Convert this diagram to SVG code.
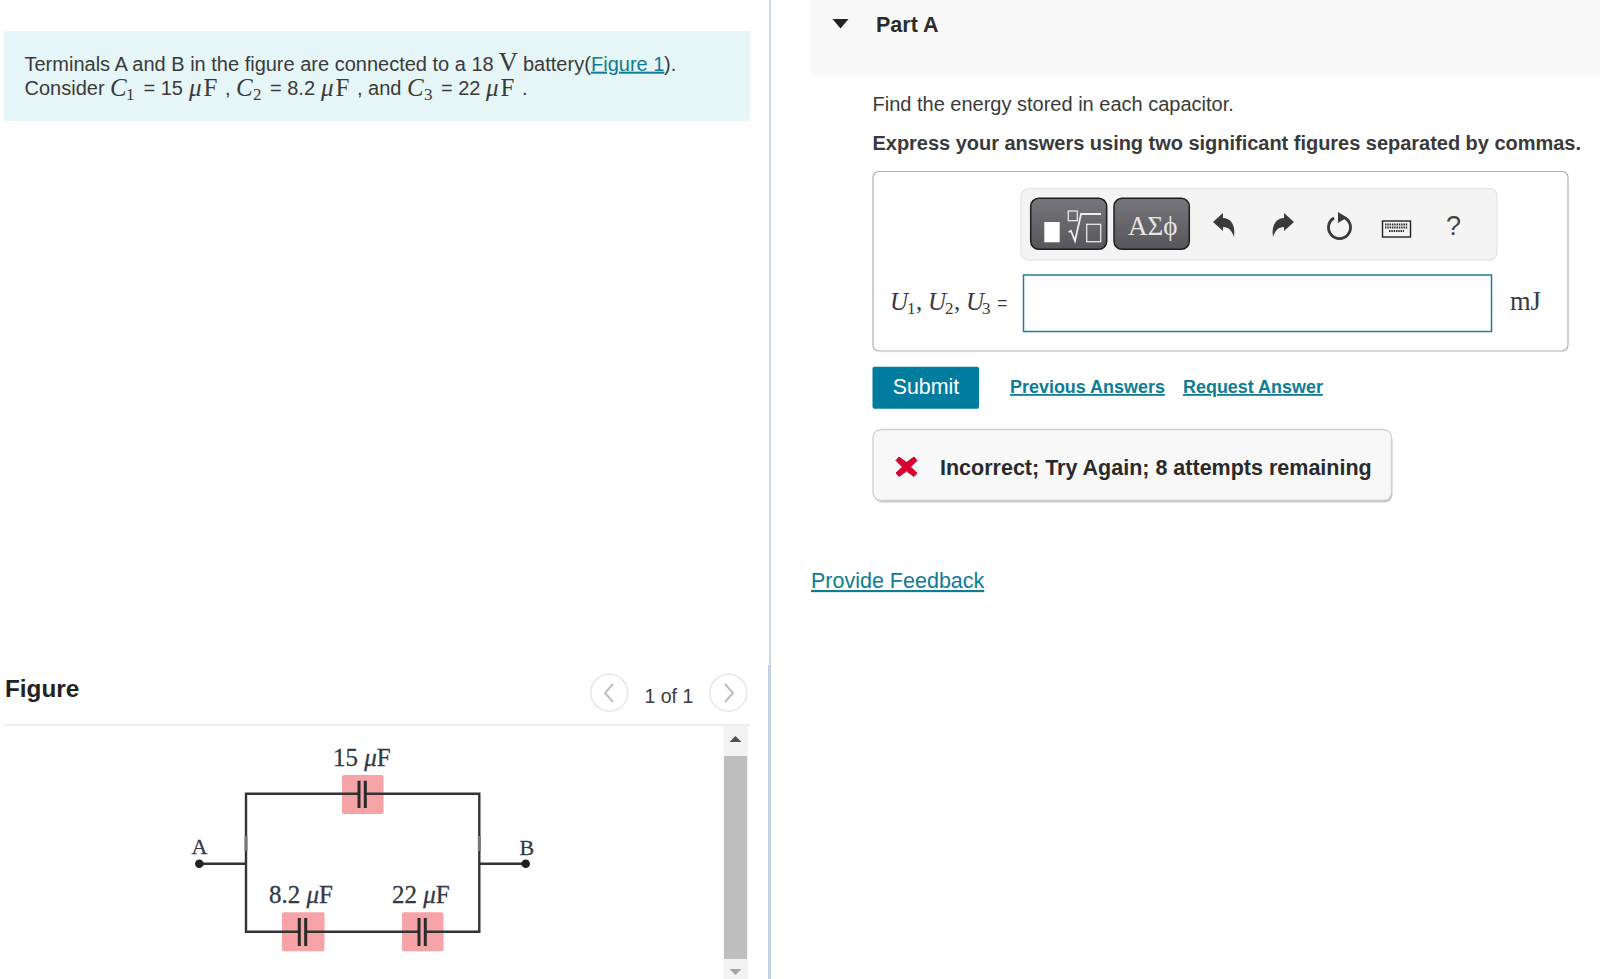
<svg xmlns="http://www.w3.org/2000/svg" width="1600" height="979" viewBox="0 0 1600 979">
<style>
text{font-family:"Liberation Sans",Arial,sans-serif;fill:#3a3a3a}
.s{font-size:20px}
.m{font-family:"Liberation Serif","Times New Roman",serif;font-size:25px}
.i{font-style:italic}
.sub{font-size:17px}
.l{fill:#0e7c94;text-decoration:underline}
.c{font-family:"Liberation Serif","Times New Roman",serif;font-size:25px;fill:#333a45;stroke:#333a45;stroke-width:.3px}
.w{fill:none;stroke:#333;stroke-width:2.4}
.p{fill:#f6a4a8}
.pl{stroke:#2a2a2a;stroke-width:3}
.tb{fill:url(#g);stroke:#1e1e1e;stroke-width:1.5}
.ic{fill:#3a3a3a}
</style>
<defs>
<linearGradient id="g" x1="0" y1="0" x2="0" y2="1"><stop offset="0" stop-color="#77777b"/><stop offset="1" stop-color="#56565a"/></linearGradient>
</defs>
<rect width="1600" height="979" fill="#fff"/>
<g id="problem">
<rect x="4" y="31" width="746" height="90" fill="#e6f5f6"/>
<text class="s" x="24.5" y="70.7">Terminals A and B in the figure are connected to a 18</text>
<text class="m" x="498.5" y="71" style="font-size:27px">V</text>
<text class="s" x="523" y="70.7">battery(</text>
<text class="s l" x="591" y="70.7">Figure 1</text>
<text class="s" x="664" y="70.7">).</text>
<text class="s" x="24.5" y="95.3">Consider</text>
<text class="m i" x="110" y="96">C</text><text class="m sub" x="126" y="100">1</text>
<text class="s" x="143.4" y="95.3">= 15</text>
<text class="m i" x="189" y="96">μ</text><text class="m" x="203.5" y="96">F</text>
<text class="s" x="225" y="95.3">,</text>
<text class="m i" x="236" y="96">C</text><text class="m sub" x="253" y="100">2</text>
<text class="s" x="270" y="95.3">= 8.2</text>
<text class="m i" x="321" y="96">μ</text><text class="m" x="335.5" y="96">F</text>
<text class="s" x="357" y="95.3">, and</text>
<text class="m i" x="407" y="96">C</text><text class="m sub" x="424" y="100">3</text>
<text class="s" x="441" y="95.3">= 22</text>
<text class="m i" x="486" y="96">μ</text><text class="m" x="500.5" y="96">F</text>
<text class="s" x="522" y="95.3">.</text>
</g>
<g id="figure-header">
<text x="5" y="697" font-size="24.300" font-weight="700" style="fill:#222">Figure</text>
<line x1="4" y1="725" x2="750" y2="725" stroke="#dcdcdc" stroke-width="1"/>
<circle cx="609.300" cy="692.700" r="18.500" fill="#fff" stroke="#e6e6e6" stroke-width="1.500"/>
<path d="M613 684L605 693L613 702" fill="none" stroke="#bdbdbd" stroke-width="2"/>
<text x="644.500" y="702.500" font-size="19.500">1 of 1</text>
<circle cx="728.300" cy="692.700" r="18.500" fill="#fff" stroke="#e6e6e6" stroke-width="1.500"/>
<path d="M725 684L733 693L725 702" fill="none" stroke="#bdbdbd" stroke-width="2"/>
</g>
<g id="scrollbar">
<rect x="723.500" y="726" width="24.500" height="253" fill="#f3f3f3"/>
<rect x="724" y="756" width="23" height="203" fill="#bebebe"/>
<path d="M729.500 742L741.500 742L735.500 736Z" fill="#505050"/>
<path d="M729.500 969L741.500 969L735.500 975Z" fill="#a3a3a3"/>
</g>
<g id="divider"><rect x="769" y="0" width="2" height="665" fill="#cfdbe8"/><rect x="768" y="665" width="3" height="314" fill="#c3d1e5"/></g>
<g id="cap-15"><rect class="p" x="342" y="775" width="41.500" height="39" rx="2"/></g>
<g id="cap-8-2"><rect class="p" x="282" y="912.300" width="42.500" height="39" rx="2"/></g>
<g id="cap-22"><rect class="p" x="402" y="912.300" width="41.500" height="39" rx="2"/></g>
<g id="connectors">
<path class="w" d="M359 793.700H246V931.700H299.300"/>
<path class="w" d="M365.300 793.700H479.300V931.700H425.300"/>
<path class="w" d="M305.700 931.700H419"/>
<path class="w" d="M199.300 863.700H246"/>
<path class="w" d="M479.300 863.700H525.700"/>
<path d="M246 836V851M479.300 836V851" stroke="#777" fill="none" stroke-width="3"/>
</g>
<g id="plates">
<path class="pl" d="M359 780.700V808M365.300 780.700V808M299.300 918V946M305.700 918V946M419 918V946M425.300 918V946"/>
</g>
<g id="terminal-a"><circle cx="199.300" cy="863.700" r="4.300" fill="#222"/><text class="c" x="191.500" y="854" style="font-size:22px">A</text></g>
<g id="terminal-b"><circle cx="525.700" cy="863.700" r="4.300" fill="#222"/><text class="c" x="519.500" y="855" style="font-size:22px">B</text></g>
<g id="label-15"><text class="c" x="333" y="766">15 <tspan font-style="italic">μ</tspan>F</text></g>
<g id="label-8-2"><text class="c" x="269" y="903">8.2 <tspan font-style="italic">μ</tspan>F</text></g>
<g id="label-22"><text class="c" x="392" y="903">22 <tspan font-style="italic">μ</tspan>F</text></g>
<g id="part-a">
<rect x="811" y="0" width="789" height="76" fill="#f8f8f8"/>
<path d="M832.500 19H848.500L840.500 28.500Z" fill="#222"/>
<text x="876" y="31.500" font-size="21.500" font-weight="700" style="fill:#2a2a2a">Part A</text>
<text class="s" x="872.500" y="111">Find the energy stored in each capacitor.</text>
<text class="s" x="872.500" y="150" font-weight="700" textLength="708.500">Express your answers using two significant figures separated by commas.</text>
</g>
<g id="answer-box">
<rect x="873" y="171.500" width="695" height="179.500" rx="6" fill="#fff" stroke="#b0b0b0" stroke-width="1.200"/>
<rect x="1021" y="188.500" width="476" height="71.500" rx="8" fill="#f4f4f4" stroke="#e6e6e6" stroke-width="1.500"/>
<rect class="tb" x="1030.700" y="198.300" width="76" height="51" rx="8"/>
<rect x="1044.300" y="222" width="15.400" height="20.300" fill="#fff"/>
<rect x="1068.300" y="211" width="9" height="9.700" fill="none" stroke="#e8e8e8" stroke-width="1.300"/>
<path d="M1068.500 232L1071 231L1075 241L1081 214H1101" fill="none" stroke="#eee" stroke-width="1.800"/>
<rect x="1086.700" y="224.300" width="14" height="17.400" fill="none" stroke="#e8e8e8" stroke-width="1.300"/>
<rect class="tb" x="1114" y="198.300" width="75.300" height="51" rx="8"/>
<text x="1128" y="235" font-size="27" style="font-family:'Liberation Serif',serif;fill:#e6e6e6">ΑΣϕ</text>
<path class="ic" d="M1213 222L1223 213V218C1230 218 1236 224 1234 237C1232 231 1229 227 1223 227V231Z"/>
<path class="ic" d="M1294 222L1284 213V218C1277 218 1271 224 1273 237C1275 231 1278 227 1284 227V231Z"/>
<path d="M1334 218A11 11 0 1 0 1345 218" fill="none" stroke="#3a3a3a" stroke-width="2.800"/>
<path class="ic" d="M1338 212L1347 217.500L1338 223Z"/>
<rect x="1382.500" y="221" width="28" height="16" fill="#f4f4f4" stroke="#222" stroke-width="1.400"/>
<path d="M1385 224.500H1408M1385 227.500H1408M1389 231H1404" stroke="#333" stroke-width="1.800" stroke-dasharray="1.500 .8"/>
<text x="1446" y="235" font-size="27" style="fill:#444">?</text>
<text class="m i" x="890" y="310">U</text><text class="m sub" x="907" y="314">1</text><text class="m" x="916" y="310">,</text>
<text class="m i" x="928" y="310">U</text><text class="m sub" x="945" y="314">2</text><text class="m" x="954" y="310">,</text>
<text class="m i" x="966" y="310">U</text><text class="m sub" x="982" y="314">3</text>
<text x="997" y="309" font-size="18">=</text>
<rect x="1023.500" y="275" width="468" height="56.500" fill="#fff" stroke="#1f7f9a" stroke-width="1.500"/>
<text class="m" x="1510" y="310" style="font-size:26.500px">mJ</text>
</g>
<g id="submit">
<rect x="872.500" y="366.700" width="106.500" height="42" rx="2" fill="#007c9e"/>
<text x="926" y="393.500" font-size="21.400" text-anchor="middle" style="fill:#fff">Submit</text>
</g>
<g id="links">
<text class="l" x="1010" y="393" font-size="17.950" font-weight="700">Previous Answers</text>
<text class="l" x="1183" y="393" font-size="17.950" font-weight="700">Request Answer</text>
</g>
<g id="feedback">
<rect x="874.500" y="431.500" width="518" height="71" rx="8" fill="#c8c8c8"/>
<rect x="873" y="429.500" width="518.500" height="71" rx="8" fill="#f8f8f8" stroke="#cfcfcf" stroke-width="1.300"/>
<path d="M899 457L906.500 462.500L914 457L917 460.500L910.500 467L917 473L914 476.500L906.500 471L899 476.500L896 473L902.500 467L896 460.500Z" fill="#d8002e" stroke="#d8002e" stroke-width="1"/>
<text x="940" y="474.500" font-size="21.500" font-weight="700" style="fill:#2a2a2a">Incorrect; Try Again; 8 attempts remaining</text>
</g>
<g id="provide"><text class="l" x="811" y="588" font-size="21.500">Provide Feedback</text></g>
</svg>
